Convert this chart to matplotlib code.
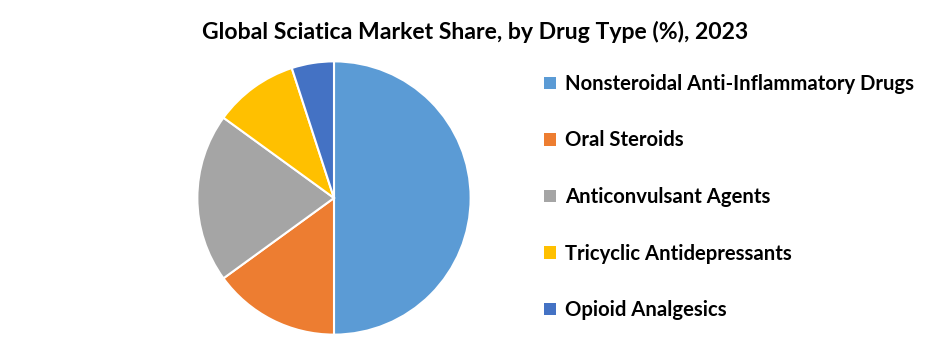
import matplotlib
matplotlib.use("Agg")
import matplotlib.pyplot as plt
from matplotlib.patches import Patch

plt.rcParams['font.family'] = ['Lato', 'DejaVu Sans']
plt.rcParams['font.weight'] = 'bold'

drug_types = ['Nonsteroidal Anti-Inflammatory Drugs', 'Oral Steroids',
              'Anticonvulsant Agents', 'Tricyclic Antidepressants',
              'Opioid Analgesics']
shares = [50, 15, 20, 10, 5]
colors = ['#5B9BD5', '#ED7D31', '#A5A5A5', '#FFC000', '#4472C4']

fig = plt.figure(figsize=(9.5, 3.37), dpi=100)
ax = fig.add_axes([196 / 950, 1 / 337, 276 / 950, 276 / 337])
ax.pie(shares, colors=colors, startangle=90, counterclock=False,
       wedgeprops={'edgecolor': 'white', 'linewidth': 1.5})
ax.set_xlim(-1.01, 1.01)
ax.set_ylim(-1.01, 1.01)
ax.set_aspect('equal')

fig.text(0.5, 1 - 32 / 337, 'Global Sciatica Market Share, by Drug Type (%), 2023',
         ha='center', va='center', fontsize=16.6, fontweight='bold')

handles = [Patch(facecolor=c, edgecolor='none') for c in colors]
fig.legend(handles, drug_types, loc='center left',
           bbox_to_anchor=(526 / 950, 1 - 197 / 337), frameon=False,
           fontsize=14.6, handlelength=0.56, handleheight=0.56,
           handletextpad=0.45, labelspacing=1.8)

plt.savefig('out.png', dpi=100)
